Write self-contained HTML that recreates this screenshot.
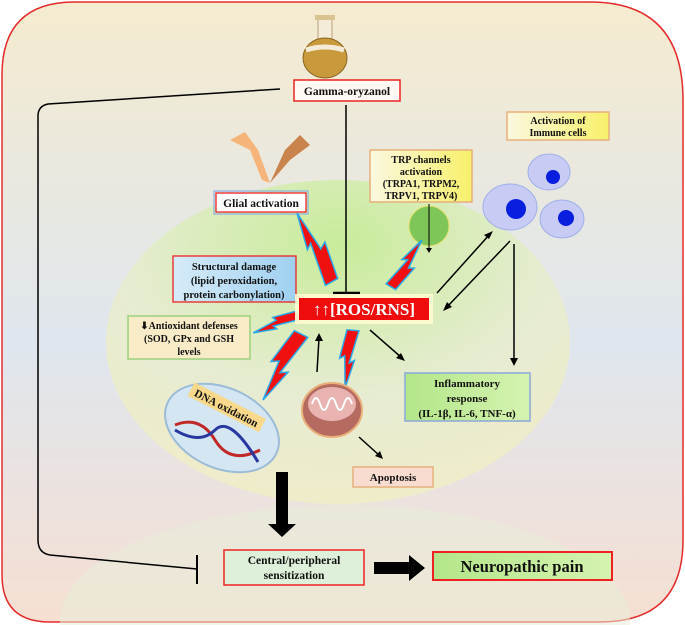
<!DOCTYPE html>
<html><head><meta charset="utf-8"><style>
html,body{margin:0;padding:0;width:685px;height:625px;overflow:hidden;background:#fff}
svg{display:block}
text{font-family:"Liberation Serif",serif;font-weight:bold;fill:#111}
</style></head><body>
<svg width="685" height="625" viewBox="0 0 685 625" xmlns="http://www.w3.org/2000/svg">
<defs>
<linearGradient id="bg" x1="0" y1="0" x2="0" y2="1">
<stop offset="0" stop-color="#f5ebcf"/><stop offset="0.55" stop-color="#dfe6ee"/><stop offset="1" stop-color="#f6dfd2"/></linearGradient>
<radialGradient id="cell" cx="0.5" cy="0.2" r="0.85">
<stop offset="0" stop-color="#c8ec9a"/><stop offset="0.55" stop-color="#e6ecd2"/><stop offset="1" stop-color="#f1ecc8"/></radialGradient>
<linearGradient id="yel" x1="0" y1="0" x2="1" y2="0"><stop offset="0" stop-color="#fbf8e0"/><stop offset="1" stop-color="#f7f06a"/></linearGradient>
<linearGradient id="blu" x1="0" y1="0" x2="1" y2="0"><stop offset="0" stop-color="#d6ebf8"/><stop offset="1" stop-color="#9fd0f0"/></linearGradient>
<linearGradient id="grn" x1="0" y1="0" x2="1" y2="0"><stop offset="0" stop-color="#b3e68a"/><stop offset="1" stop-color="#d5f3b0"/></linearGradient>
<clipPath id="frame"><rect x="0" y="0" width="685" height="625"/></clipPath>
</defs>
<g clip-path="url(#frame)">
<path d="M75,2 H590 Q683,2 683,100 V540 Q683,622 600,622 H50 Q2,622 2,575 V75 Q2,2 75,2 Z" fill="url(#bg)" stroke="#e52b2b" stroke-width="1.5"/>
<ellipse cx="345" cy="620" rx="285" ry="115" fill="#e8ecd8" opacity="0.55"/>
<ellipse cx="338" cy="342" rx="232" ry="162" fill="url(#cell)"/>
<!-- left inhibitory line -->
<path d="M280,89 L48,104 Q38,106 38,116 V540 Q38,553 50,555 L197,569" fill="none" stroke="#000" stroke-width="1.5"/>
<line x1="197" y1="555" x2="197" y2="584" stroke="#000" stroke-width="2"/>
<!-- flask -->
<rect x="318" y="18" width="14" height="22" fill="#f4ecd8" stroke="#b9a27b"/>
<rect x="315" y="15" width="20" height="5" fill="#d9c390"/>
<ellipse cx="325" cy="58" rx="22" ry="20" fill="#c99a3c" stroke="#8a6420"/>
<path d="M306,50 Q325,44 344,50" stroke="#f4ecd8" stroke-width="5" fill="none"/>
<!-- gamma box -->
<rect x="294" y="80" width="106" height="21" fill="#fff8f3" stroke="#e22" stroke-width="1.5"/>
<text x="347" y="95" font-size="11.5" text-anchor="middle">Gamma-oryzanol</text>
<line x1="346" y1="105" x2="346" y2="292" stroke="#000" stroke-width="1.5"/>
<line x1="333" y1="293" x2="360" y2="293" stroke="#000" stroke-width="2.5"/>
<!-- glial cells -->
<path d="M230,140 L250,150 L262,180 L270,183 L258,150 L245,132 Z" fill="#f5b47a"/>
<path d="M270,183 L285,150 L300,135 L310,145 L290,160 Z" fill="#c9834c"/>
<rect x="216" y="193" width="90" height="19" fill="#fff" stroke="#e22" stroke-width="1.3"/>
<rect x="214" y="191" width="94" height="23" fill="none" stroke="#8ab0e0" stroke-width="1.2"/>
<text x="261" y="207" font-size="11.5" text-anchor="middle">Glial activation</text>
<!-- TRP -->
<rect x="370" y="150" width="102" height="52" fill="url(#yel)" stroke="#e6b07a" stroke-width="1.5"/>
<text x="421" y="163" font-size="10" text-anchor="middle">TRP channels</text>
<text x="421" y="175" font-size="10" text-anchor="middle">activation</text>
<text x="421" y="187" font-size="10" text-anchor="middle">(TRPA1, TRPM2,</text>
<text x="421" y="199" font-size="10" text-anchor="middle">TRPV1, TRPV4)</text>
<circle cx="429" cy="226" r="20" fill="#7fc65a" stroke="#e6e070"/>
<line x1="429" y1="204" x2="429" y2="252" stroke="#000"/>
<path d="M426,248 L432,248 L429,253 Z"/>
<!-- immune -->
<rect x="507" y="112" width="102" height="28" fill="url(#yel)" stroke="#e6b07a" stroke-width="1.5"/>
<text x="558" y="124" font-size="10" text-anchor="middle">Activation of</text>
<text x="558" y="136" font-size="10" text-anchor="middle">Immune cells</text>
<ellipse cx="510" cy="207" rx="27" ry="23" fill="#c8ccf5" stroke="#9fb0e8"/>
<circle cx="516" cy="209" r="10" fill="#0a1ee0"/>
<ellipse cx="549" cy="172" rx="21" ry="18" fill="#c8ccf5" stroke="#9fb0e8"/>
<circle cx="553" cy="177" r="7" fill="#0a1ee0"/>
<ellipse cx="562" cy="219" rx="22" ry="19" fill="#c8ccf5" stroke="#9fb0e8"/>
<circle cx="566" cy="218" r="8" fill="#0a1ee0"/>
<!-- arrows -->
<g stroke="#000" stroke-width="1.5" fill="none">
<line x1="437" y1="293" x2="490" y2="234"/>
<line x1="510" y1="241" x2="446" y2="308"/>
<line x1="514" y1="244" x2="514" y2="360"/>
<line x1="370" y1="330" x2="402" y2="358"/>
<line x1="317" y1="372" x2="319" y2="338"/>
<line x1="359" y1="437" x2="380" y2="456"/>
</g>
<path d="M493,231 L484,235 L489,239 Z M443,311 L447,302 L452,307 Z M510,358 L518,358 L514,366 Z M405,361 L396,358 L401,353 Z M319,333 L315,341 L323,341 Z M383,459 L375,456 L380,451 Z"/>
<!-- structural -->
<rect x="173" y="256" width="123" height="46" fill="url(#blu)" stroke="#e22" stroke-width="1.3"/>
<text x="234" y="270" font-size="10.5" text-anchor="middle">Structural damage</text>
<text x="234" y="284" font-size="10.5" text-anchor="middle">(lipid peroxidation,</text>
<text x="234" y="298" font-size="10.5" text-anchor="middle">protein carbonylation)</text>
<!-- antioxidant -->
<rect x="128" y="316" width="122" height="43" fill="#f8ecc8" stroke="#9ed07a" stroke-width="1.5"/>
<text x="189" y="329" font-size="10" text-anchor="middle">⬇Antioxidant defenses</text>
<text x="189" y="342" font-size="10" text-anchor="middle">(SOD, GPx and GSH</text>
<text x="189" y="355" font-size="10" text-anchor="middle">levels</text>
<!-- lightning bolts: wide end at origin, tip at +x -->
<g fill="#f01010" stroke="#28a8e8" stroke-width="1.5">
<g transform="translate(335,280) rotate(-119.6)"><polygon points="0,-11 44,-3 40,-9 77,0 34,3 38,10 0,3"/></g>
<g transform="translate(393,288) rotate(-58.9)"><polygon points="0,-8 32,-2 29,-7 56,0 25,3 28,8 0,3"/></g>
<g transform="translate(297,313) rotate(155.6)"><polygon points="0,-7 27,-2 25,-6 48,0 22,2 24,6 0,2"/></g>
<g transform="translate(297,332) rotate(116.6)"><polygon points="0,-12 44,-3 40,-10 76,0 34,3 38,10 0,3"/></g>
<g transform="translate(350,330) rotate(94.9)"><polygon points="0,-9 33,-2 30,-7 58,0 26,3 29,8 0,3"/></g>
</g>
<!-- ROS -->
<rect x="295" y="294" width="138" height="30" fill="#fffbd0" opacity="0.9"/>
<rect x="299" y="298" width="130" height="22" fill="#ee0c0c"/>
<text x="364" y="315" font-size="17" text-anchor="middle" style="fill:#fff">↑↑[ROS/RNS]</text>
<!-- inflammatory -->
<rect x="405" y="373" width="125" height="48" fill="url(#grn)" stroke="#8aa8d8" stroke-width="1.5"/>
<text x="467" y="387" font-size="11" text-anchor="middle">Inflammatory</text>
<text x="467" y="402" font-size="11" text-anchor="middle">response</text>
<text x="467" y="417" font-size="11" text-anchor="middle">(IL-1β, IL-6, TNF-α)</text>
<!-- DNA -->
<ellipse cx="222" cy="428" rx="60" ry="40" transform="rotate(25 222 428)" fill="#d4e6f2" stroke="#9bbbd8" stroke-width="2"/>
<g transform="rotate(27 222 410)"><rect x="185" y="398" width="80" height="15" fill="#f8d88a"/>
<text x="225" y="410" font-size="11" text-anchor="middle">DNA oxidation</text></g>
<path d="M175,425 Q200,415 215,440 T260,450" stroke="#c02828" stroke-width="3" fill="none"/>
<path d="M175,430 Q200,445 215,430 T258,462" stroke="#2838a0" stroke-width="3" fill="none"/>
<!-- mito -->
<ellipse cx="332" cy="410" rx="30" ry="27" fill="#b56b60" stroke="#eab07a" stroke-width="2"/>
<ellipse cx="332" cy="404" rx="24" ry="17" fill="#e8b3b0"/>
<path d="M312,404 q4,-12 8,0 q4,12 8,0 q4,-12 8,0 q4,12 8,0 q4,-12 8,0" stroke="#fff" stroke-width="2" fill="none"/>
<!-- apoptosis -->
<rect x="353" y="467" width="80" height="20" fill="#f8dcd0" stroke="#e6b07a" stroke-width="1.5"/>
<text x="393" y="481" font-size="11" text-anchor="middle">Apoptosis</text>
<!-- big arrows -->
<polygon points="276,472 288,472 288,524 296,524 282,537 268,524 276,524" fill="#000"/>
<polygon points="374,562 409,562 409,555 425,568 409,581 409,574 374,574" fill="#000"/>
<!-- central -->
<rect x="224" y="550" width="140" height="35" fill="#dff0da" stroke="#e22" stroke-width="1.5"/>
<text x="294" y="564" font-size="11.5" text-anchor="middle">Central/peripheral</text>
<text x="294" y="579" font-size="11.5" text-anchor="middle">sensitization</text>
<rect x="433" y="552" width="179" height="28" fill="url(#grn)" stroke="#e22" stroke-width="2"/>
<text x="522" y="572" font-size="16.5" text-anchor="middle">Neuropathic pain</text>
</g>
</svg>
</body></html>
